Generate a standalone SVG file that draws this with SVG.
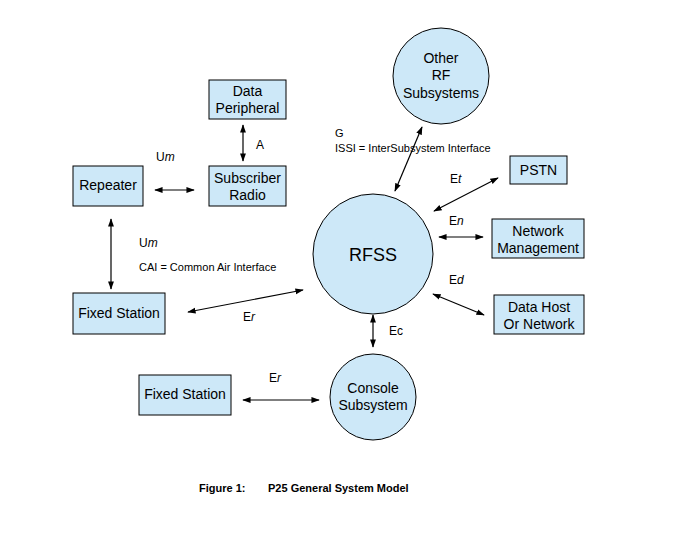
<svg xmlns="http://www.w3.org/2000/svg" width="691" height="554" viewBox="0 0 691 554">
<defs>
<marker id="ah" viewBox="0 0 10 10" refX="9" refY="5" markerWidth="7" markerHeight="7" orient="auto-start-reverse"><path d="M0,1.5 L10,5 L0,8.5 z" fill="#000"/></marker>
<style>
.b{fill:#cde8f8;stroke:#000;stroke-width:1}
.t{font-family:"Liberation Sans",Arial,sans-serif;font-size:14px;fill:#000;text-anchor:middle}
.l{font-family:"Liberation Sans",Arial,sans-serif;font-size:12px;fill:#000}
.c{stroke:#000;stroke-width:1.2;marker-start:url(#ah);marker-end:url(#ah);fill:none}
</style>
</defs>
<rect width="691" height="554" fill="#fff"/>
<g id="dataperipheral"><rect class="b" x="209" y="80" width="77" height="39"/><text class="t" x="247.5" y="96">Data</text><text class="t" x="247.5" y="113">Peripheral</text></g>
<g id="repeater"><rect class="b" x="73" y="166" width="70" height="40"/><text class="t" x="108" y="190">Repeater</text></g>
<g id="subscriber"><rect class="b" x="209" y="166" width="77" height="40"/><text class="t" x="247.5" y="183">Subscriber</text><text class="t" x="247.5" y="200">Radio</text></g>
<g id="fixed1"><rect class="b" x="73" y="293" width="92" height="41"/><text class="t" x="119" y="318">Fixed Station</text></g>
<g id="pstn"><rect class="b" x="510" y="156" width="57" height="28"/><text class="t" x="538.5" y="175">PSTN</text></g>
<g id="netmgmt"><rect class="b" x="492" y="219" width="92" height="39"/><text class="t" x="538" y="236">Network</text><text class="t" x="538" y="253">Management</text></g>
<g id="datahost"><rect class="b" x="494" y="295" width="90" height="39"/><text class="t" x="539" y="312">Data Host</text><text class="t" x="539" y="329">Or Network</text></g>
<g id="fixed2"><rect class="b" x="139" y="375" width="92" height="40"/><text class="t" x="185" y="399">Fixed Station</text></g>
<g id="rfss"><circle class="b" cx="373" cy="254" r="60"/><text class="t" x="373" y="261" style="font-size:18px">RFSS</text></g>
<g id="otherrf"><circle class="b" cx="441" cy="76" r="48"/><text class="t" x="441" y="63">Other</text><text class="t" x="441" y="80">RF</text><text class="t" x="441" y="98">Subsystems</text></g>
<g id="console"><circle class="b" cx="373" cy="397" r="43"/><text class="t" x="373" y="393">Console</text><text class="t" x="373" y="410">Subsystem</text></g>
<g id="connectors">
<line class="c" x1="243" y1="125" x2="243" y2="161"/>
<line class="c" x1="155" y1="190" x2="194" y2="190"/>
<line class="c" x1="111" y1="219" x2="111" y2="289"/>
<line class="c" x1="188" y1="312" x2="303" y2="290"/>
<line class="c" x1="395" y1="191" x2="422" y2="127"/>
<line class="c" x1="434" y1="211" x2="498" y2="178"/>
<line class="c" x1="439" y1="237" x2="483" y2="237"/>
<line class="c" x1="433" y1="294" x2="484" y2="315"/>
<line class="c" x1="373" y1="315" x2="373" y2="347"/>
<line class="c" x1="243" y1="400" x2="319" y2="400"/>
</g>
<g id="labels">
<text class="l" x="156" y="161">U<tspan font-style="italic">m</tspan></text>
<text class="l" x="256" y="149">A</text>
<text class="l" x="139" y="247">U<tspan font-style="italic">m</tspan></text>
<text class="l" x="139" y="271" style="font-size:11px">CAI = Common Air Interface</text>
<text class="l" x="243" y="321">E<tspan font-style="italic">r</tspan></text>
<text class="l" x="335" y="137" style="font-size:11px">G</text>
<text class="l" x="335" y="152" style="font-size:11px">ISSI = InterSubsystem Interface</text>
<text class="l" x="450" y="183">E<tspan font-style="italic">t</tspan></text>
<text class="l" x="449" y="225">E<tspan font-style="italic">n</tspan></text>
<text class="l" x="449" y="284">E<tspan font-style="italic">d</tspan></text>
<text class="l" x="389" y="335">Ec</text>
<text class="l" x="269" y="382">E<tspan font-style="italic">r</tspan></text>
<text class="l" x="199" y="492" style="font-size:11px;font-weight:bold">Figure 1:</text>
<text class="l" x="268" y="492" style="font-size:11px;font-weight:bold">P25 General System Model</text>
</g>
</svg>
